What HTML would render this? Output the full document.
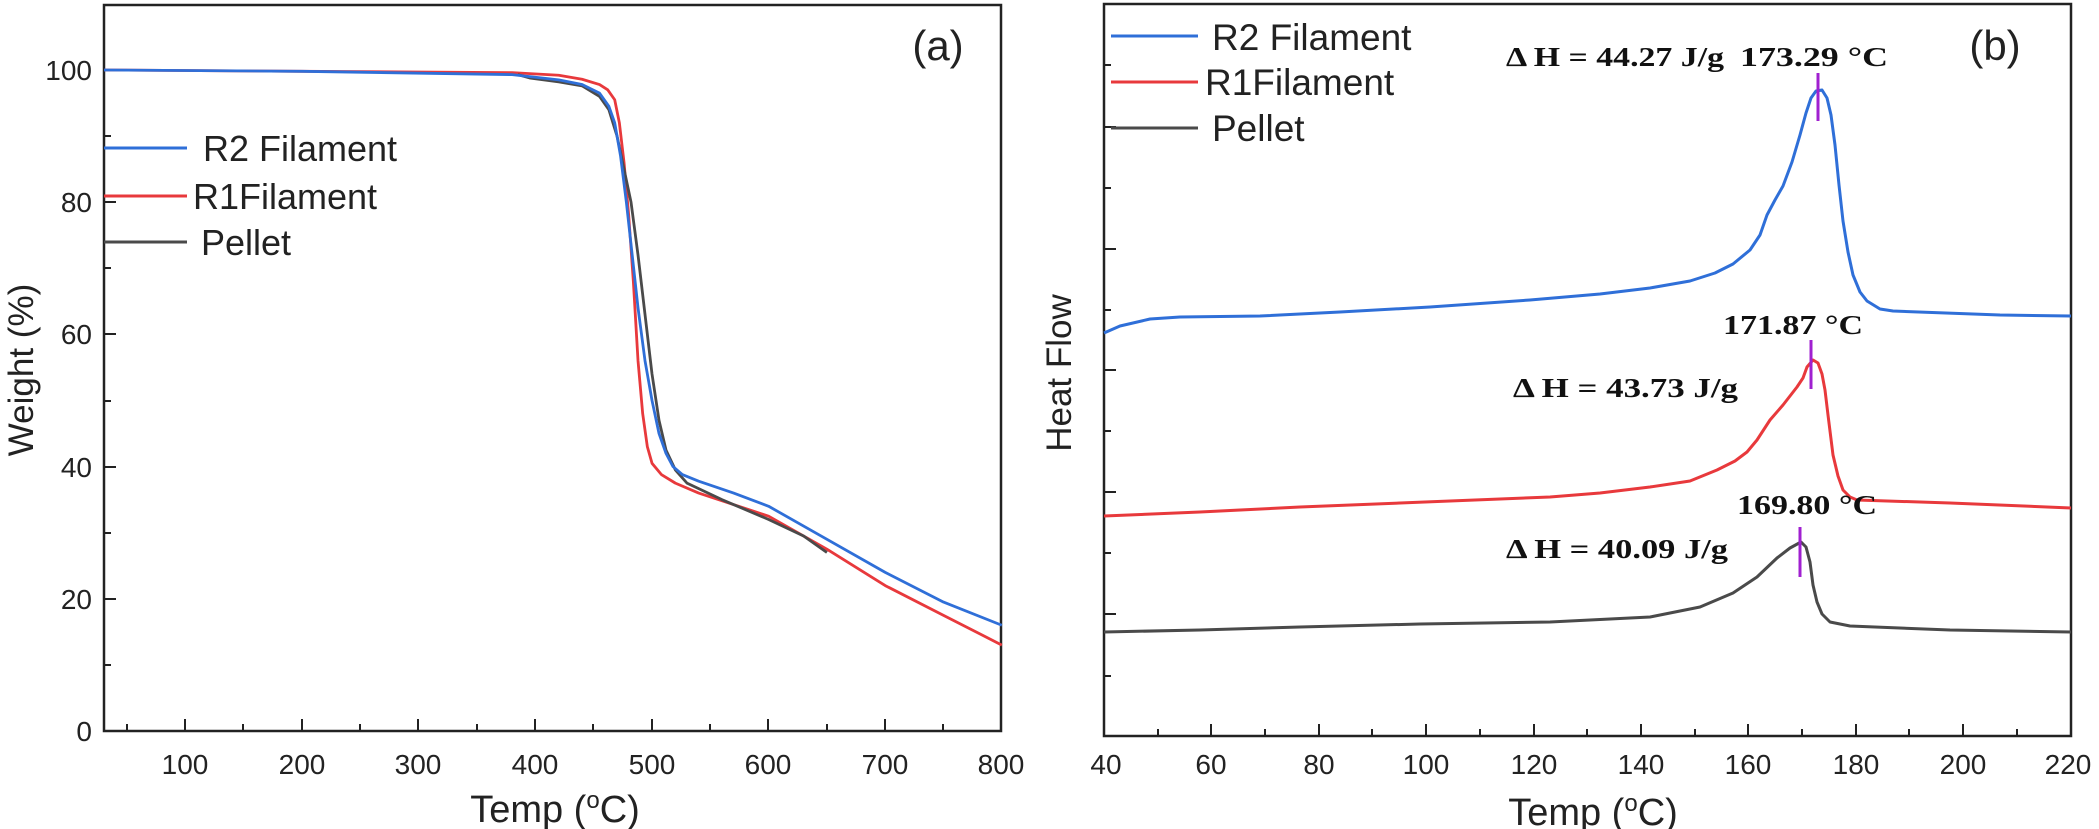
<!DOCTYPE html>
<html><head><meta charset="utf-8"><style>
html,body{margin:0;padding:0;background:#fff;}
svg{display:block;font-family:"Liberation Sans",sans-serif;}
.ann{font-family:"Liberation Serif",serif;font-weight:bold;font-size:27px;fill:#111;}
</style></head><body>
<svg width="2099" height="829" viewBox="0 0 2099 829" xmlns="http://www.w3.org/2000/svg">
<rect width="2099" height="829" fill="#fff"/>
<!-- LEFT PANEL -->
<rect x="104" y="5" width="897" height="726" stroke="#222" stroke-width="2.5" fill="none"/>
<g stroke="#222" stroke-width="2">
<line x1="185" y1="731" x2="185" y2="719"/><line x1="302" y1="731" x2="302" y2="719"/><line x1="418" y1="731" x2="418" y2="719"/><line x1="535" y1="731" x2="535" y2="719"/><line x1="652" y1="731" x2="652" y2="719"/><line x1="768" y1="731" x2="768" y2="719"/><line x1="885" y1="731" x2="885" y2="719"/>
<line x1="127" y1="731" x2="127" y2="724"/><line x1="243" y1="731" x2="243" y2="724"/><line x1="360" y1="731" x2="360" y2="724"/><line x1="477" y1="731" x2="477" y2="724"/><line x1="593" y1="731" x2="593" y2="724"/><line x1="710" y1="731" x2="710" y2="724"/><line x1="827" y1="731" x2="827" y2="724"/><line x1="943" y1="731" x2="943" y2="724"/>
<line x1="104" y1="599" x2="116" y2="599"/><line x1="104" y1="467" x2="116" y2="467"/><line x1="104" y1="334" x2="116" y2="334"/><line x1="104" y1="202" x2="116" y2="202"/><line x1="104" y1="70" x2="116" y2="70"/>
<line x1="104" y1="665" x2="111" y2="665"/><line x1="104" y1="533" x2="111" y2="533"/><line x1="104" y1="401" x2="111" y2="401"/><line x1="104" y1="268" x2="111" y2="268"/><line x1="104" y1="136" x2="111" y2="136"/>
</g>
<g font-size="28" fill="#222" text-anchor="end">
<text x="92" y="741">0</text><text x="92" y="609">20</text><text x="92" y="477">40</text><text x="92" y="344">60</text><text x="92" y="212">80</text><text x="92" y="80">100</text>
</g>
<g font-size="28" fill="#222" text-anchor="middle">
<text x="185" y="774">100</text><text x="302" y="774">200</text><text x="418" y="774">300</text><text x="535" y="774">400</text><text x="652" y="774">500</text><text x="768" y="774">600</text><text x="885" y="774">700</text><text x="1001" y="774">800</text>
</g>
<text x="555" y="822" font-size="38" fill="#222" text-anchor="middle">Temp (<tspan font-size="24" dy="-14">o</tspan><tspan dy="14">C)</tspan></text>
<text transform="translate(33,370) rotate(-90)" font-size="35" fill="#222" text-anchor="middle">Weight (%)</text>
<text x="938" y="60" font-size="42" fill="#222" text-anchor="middle">(a)</text>
<g fill="none" stroke-width="2.8" stroke-linejoin="round" transform="matrix(1.166,0,0,-6.61,69.02,731)">
<polyline vector-effect="non-scaling-stroke" stroke="#e8393c" points="30,100 200,99.8 380,99.6 420,99.2 440,98.6 455,97.8 462,97 468,95.5 472,92 476,86 480,78 484,68 488,56 492,48 496,43 500,40.5 508,38.8 520,37.5 540,36 600,32.5 650,27.5 700,22 750,17.5 800,13"/>
<polyline vector-effect="non-scaling-stroke" stroke="#4a4a4a" points="385,99.3 395,98.8 420,98.2 440,97.6 455,96 463,94 470,90 476,85 482,80 488,72 494,63 500,54 506,47 512,42.5 520,39.5 530,37.5 560,35 600,32 630,29.5 650,27"/>
<polyline vector-effect="non-scaling-stroke" stroke="#2f6fd8" points="30,100 200,99.8 380,99.3 420,98.5 440,97.8 455,96.5 463,94.5 468,92 473,87 478,80 483,72 488,64 494,56 500,50 506,45 512,42 518,40 526,38.8 540,37.8 570,36 600,34 640,30 700,24 750,19.5 800,16"/>
</g>
<g stroke-width="3">
<line x1="104" y1="148" x2="187" y2="148" stroke="#2f6fd8"/>
<line x1="104" y1="196" x2="187" y2="196" stroke="#e8393c"/>
<line x1="104" y1="242" x2="187" y2="242" stroke="#4a4a4a"/>
</g>
<g font-size="36" fill="#222">
<text x="203" y="161">R2  Filament</text>
<text x="193" y="209">R1Filament</text>
<text x="201" y="255">Pellet</text>
</g>

<!-- RIGHT PANEL -->
<rect x="1104" y="4" width="967" height="732" stroke="#222" stroke-width="2.5" fill="none"/>
<g stroke="#222" stroke-width="2">
<line x1="1104" y1="736" x2="1104" y2="724"/><line x1="1211" y1="736" x2="1211" y2="724"/><line x1="1319" y1="736" x2="1319" y2="724"/><line x1="1426" y1="736" x2="1426" y2="724"/><line x1="1534" y1="736" x2="1534" y2="724"/><line x1="1641" y1="736" x2="1641" y2="724"/><line x1="1748" y1="736" x2="1748" y2="724"/><line x1="1856" y1="736" x2="1856" y2="724"/><line x1="1963" y1="736" x2="1963" y2="724"/>
<line x1="1158" y1="736" x2="1158" y2="729"/><line x1="1265" y1="736" x2="1265" y2="729"/><line x1="1372" y1="736" x2="1372" y2="729"/><line x1="1480" y1="736" x2="1480" y2="729"/><line x1="1587" y1="736" x2="1587" y2="729"/><line x1="1695" y1="736" x2="1695" y2="729"/><line x1="1802" y1="736" x2="1802" y2="729"/><line x1="1909" y1="736" x2="1909" y2="729"/><line x1="2017" y1="736" x2="2017" y2="729"/>
<line x1="1104" y1="676" x2="1111" y2="676"/><line x1="1104" y1="614" x2="1116" y2="614"/><line x1="1104" y1="553" x2="1111" y2="553"/><line x1="1104" y1="492" x2="1116" y2="492"/><line x1="1104" y1="431" x2="1111" y2="431"/><line x1="1104" y1="370" x2="1116" y2="370"/><line x1="1104" y1="310" x2="1111" y2="310"/><line x1="1104" y1="249" x2="1116" y2="249"/><line x1="1104" y1="188" x2="1111" y2="188"/><line x1="1104" y1="127" x2="1116" y2="127"/><line x1="1104" y1="65" x2="1111" y2="65"/>
</g>
<g font-size="28" fill="#222" text-anchor="middle">
<text x="1106" y="774">40</text><text x="1211" y="774">60</text><text x="1319" y="774">80</text><text x="1426" y="774">100</text><text x="1534" y="774">120</text><text x="1641" y="774">140</text><text x="1748" y="774">160</text><text x="1856" y="774">180</text><text x="1963" y="774">200</text><text x="2068" y="774">220</text>
</g>
<text x="1593" y="825" font-size="38" fill="#222" text-anchor="middle">Temp (<tspan font-size="24" dy="-14">o</tspan><tspan dy="14">C)</tspan></text>
<text transform="translate(1071,373) rotate(-90)" font-size="35" fill="#222" text-anchor="middle">Heat Flow</text>
<text x="1995" y="60" font-size="42" fill="#222" text-anchor="middle">(b)</text>
<g fill="none" stroke-width="3" stroke-linejoin="round">
<polyline stroke="#2f6fd8" points="1104,333 1120,326 1150,319 1180,317 1260,316 1340,312 1430,307 1530,300 1600,294 1650,288 1690,281 1715,273 1733,264 1750,250 1760,235 1767,215 1775,200 1783,186 1792,162 1800,135 1806,113 1811,98 1816,91 1822,90 1827,98 1831,115 1835,145 1839,185 1843,221 1848,252 1853,275 1860,292 1867,301 1880,309 1893,311 2000,315 2071,316"/>
<polyline stroke="#e8393c" points="1104,516 1200,512 1300,507 1400,503 1500,499 1550,497 1600,493 1650,487 1690,481 1717,470 1735,461 1747,452 1757,440 1770,420 1783,405 1797,387 1803,378 1807,367 1813,360 1818,363 1822,374 1825,390 1828,415 1833,455 1838,476 1843,490 1850,497 1857,500 1950,503 2071,508"/>
<polyline stroke="#4a4a4a" points="1104,632 1200,630 1300,627 1420,624 1550,622 1650,617 1700,607 1733,593 1757,577 1777,558 1790,548 1801,542 1806,547 1810,562 1813,585 1817,602 1822,614 1830,622 1850,626 1950,630 2071,632"/>
</g>
<g stroke="#a020d0" stroke-width="3">
<line x1="1818" y1="73" x2="1818" y2="121"/>
<line x1="1811" y1="340" x2="1811" y2="389"/>
<line x1="1800" y1="527" x2="1800" y2="577"/>
</g>
<g class="ann">
<text x="1506" y="66" textLength="218" lengthAdjust="spacingAndGlyphs">Δ H = 44.27 J/g</text>
<text x="1740" y="66" textLength="148" lengthAdjust="spacingAndGlyphs">173.29 °C</text>
<text x="1723" y="334" textLength="140" lengthAdjust="spacingAndGlyphs">171.87 °C</text>
<text x="1513" y="397" textLength="225" lengthAdjust="spacingAndGlyphs">Δ H = 43.73 J/g</text>
<text x="1737" y="514" textLength="140" lengthAdjust="spacingAndGlyphs">169.80 °C</text>
<text x="1506" y="558" textLength="222" lengthAdjust="spacingAndGlyphs">Δ H = 40.09 J/g</text>
</g>
<g stroke-width="3">
<line x1="1111" y1="36" x2="1198" y2="36" stroke="#2f6fd8"/>
<line x1="1111" y1="82" x2="1198" y2="82" stroke="#e8393c"/>
<line x1="1111" y1="128" x2="1198" y2="128" stroke="#4a4a4a"/>
</g>
<g font-size="37" fill="#222">
<text x="1212" y="50">R2  Filament</text>
<text x="1205" y="95">R1Filament</text>
<text x="1212" y="141">Pellet</text>
</g>
</svg>
</body></html>
